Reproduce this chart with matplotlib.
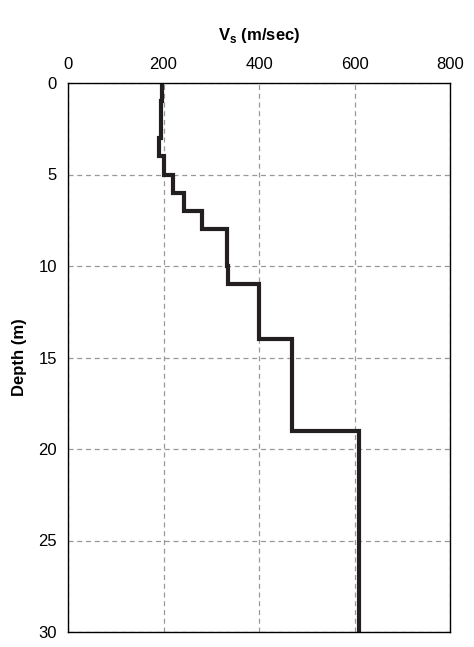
import matplotlib
matplotlib.use("Agg")
import matplotlib.pyplot as plt

depth_top = [0, 1, 2, 3, 4, 5, 6, 7, 8, 10, 11, 14, 19]
depth_bot = [1, 2, 3, 4, 5, 6, 7, 8, 10, 11, 14, 19, 30]
vs = [196, 195, 194, 191, 200, 219, 243, 280, 332, 336, 400, 470, 610]

xs, ys = [], []
for t, b, v in zip(depth_top, depth_bot, vs):
    xs += [v, v]
    ys += [t, b]

plt.rcParams['font.family'] = ['Liberation Sans', 'DejaVu Sans']
fig = plt.figure(figsize=(4.74, 6.47), dpi=100)
ax = fig.add_axes([68/474, 1-632/647, 382/474, 549/647])
ax.plot(xs, ys, color='#231f20', lw=3, solid_joinstyle='miter')
ax.set_xlim(0, 800)
ax.set_ylim(30, 0)
ax.set_xticks([0, 200, 400, 600, 800])
ax.set_yticks([0, 5, 10, 15, 20, 25, 30])
ax.xaxis.tick_top()
ax.xaxis.set_label_position('top')
ax.tick_params(labelsize=12, length=0, pad=8)
ax.grid(True, ls=(0, (4, 3)), color='#999999', lw=0.9)
for s in ax.spines.values():
    s.set_color('black'); s.set_linewidth(1)
ax.set_xlabel('V$_\\mathregular{s}$ (m/sec)', fontsize=12, fontweight='bold', labelpad=12)
ax.set_ylabel('Depth (m)', fontsize=12, fontweight='bold', labelpad=8)
fig.savefig('out.png', dpi=100)
